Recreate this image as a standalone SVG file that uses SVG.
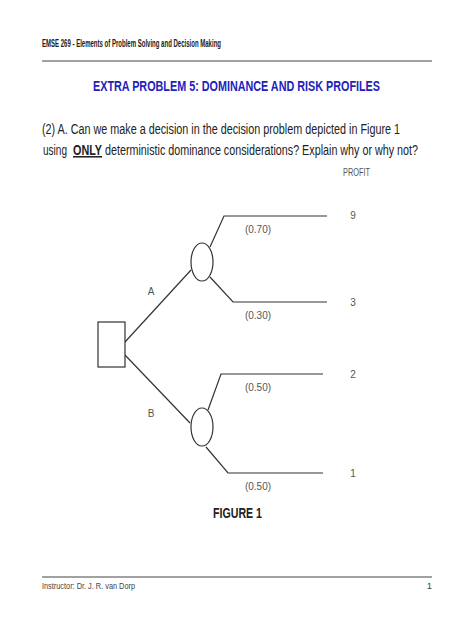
<svg xmlns="http://www.w3.org/2000/svg" width="474" height="632" viewBox="0 0 474 632">
<style>
.hdr{font-family:"Liberation Sans",Arial,sans-serif;font-weight:bold;font-size:10px;fill:#222}
.title{font-family:"Liberation Sans",Arial,sans-serif;font-weight:bold;font-size:14px;fill:#2222bb}
.body{font-family:"Liberation Sans",Arial,sans-serif;font-size:15.5px;fill:#222}
.lbl{font-family:"Liberation Sans",Arial,sans-serif;font-size:10px;fill:#555}
.fig{font-family:"Liberation Sans",Arial,sans-serif;font-weight:bold;font-size:15px;fill:#222}
.foot{font-family:"Liberation Sans",Arial,sans-serif;font-size:9.5px;fill:#444}
.ln{stroke:#333;stroke-width:1.2;fill:none}
.node{stroke:#333;stroke-width:1.2;fill:#fff}
</style>
<rect width="474" height="632" fill="#fff"/>
<text class="hdr" x="42" y="47" textLength="179" lengthAdjust="spacingAndGlyphs">EMSE 269 - Elements of Problem Solving and Decision Making</text>
<line x1="42" y1="61" x2="432" y2="61" stroke="#444" stroke-width="1"/>
<text class="title" x="93" y="91" textLength="287" lengthAdjust="spacingAndGlyphs">EXTRA PROBLEM 5: DOMINANCE AND RISK PROFILES</text>
<text class="body" x="42" y="134" textLength="358" lengthAdjust="spacingAndGlyphs">(2) A. Can we make a decision in the decision problem depicted in Figure 1</text>
<text class="body" x="43" y="155" textLength="24" lengthAdjust="spacingAndGlyphs">using</text>
<text class="body" x="73" y="155" font-weight="bold" text-decoration="underline" textLength="29" lengthAdjust="spacingAndGlyphs">ONLY</text>
<text class="body" x="105" y="155" textLength="313" lengthAdjust="spacingAndGlyphs">deterministic dominance considerations? Explain why or why not?</text>
<text class="lbl" x="343" y="176" textLength="27" lengthAdjust="spacingAndGlyphs">PROFIT</text>
<g id="connectors">
<polyline class="ln" points="125,342 191,270"/>
<polyline class="ln" points="125,355 190,423"/>
<polyline class="ln" points="210,247 224,216 327,216"/>
<polyline class="ln" points="210,277 233,302 327,302"/>
<polyline class="ln" points="208,410 221,374 323,374"/>
<polyline class="ln" points="206,447 228,473 323,473"/>
</g>
<g id="decision"><rect class="node" x="98" y="322" width="27" height="45"/></g>
<g id="chanceA"><ellipse class="node" cx="202" cy="262" rx="11" ry="19"/></g>
<g id="chanceB"><ellipse class="node" cx="202" cy="427" rx="11" ry="19"/></g>
<g id="labels">
<text class="lbl" x="151" y="295" text-anchor="middle">A</text>
<text class="lbl" x="151" y="417" text-anchor="middle">B</text>
<text class="lbl" x="258" y="233" text-anchor="middle">(0.70)</text>
<text class="lbl" x="258" y="319" text-anchor="middle">(0.30)</text>
<text class="lbl" x="258" y="391" text-anchor="middle">(0.50)</text>
<text class="lbl" x="258" y="490" text-anchor="middle">(0.50)</text>
<text class="lbl" x="353" y="219" text-anchor="middle">9</text>
<text class="lbl" x="353" y="306" text-anchor="middle">3</text>
<text class="lbl" x="353" y="378" text-anchor="middle">2</text>
<text class="lbl" x="353" y="477" text-anchor="middle">1</text>
</g>
<text class="fig" x="213" y="518" textLength="49" lengthAdjust="spacingAndGlyphs">FIGURE 1</text>
<line x1="42" y1="577" x2="432" y2="577" stroke="#444" stroke-width="1"/>
<text class="foot" x="42" y="589" textLength="93" lengthAdjust="spacingAndGlyphs">Instructor: Dr. J. R. van Dorp</text>
<text class="foot" x="432" y="589" text-anchor="end">1</text>
</svg>
